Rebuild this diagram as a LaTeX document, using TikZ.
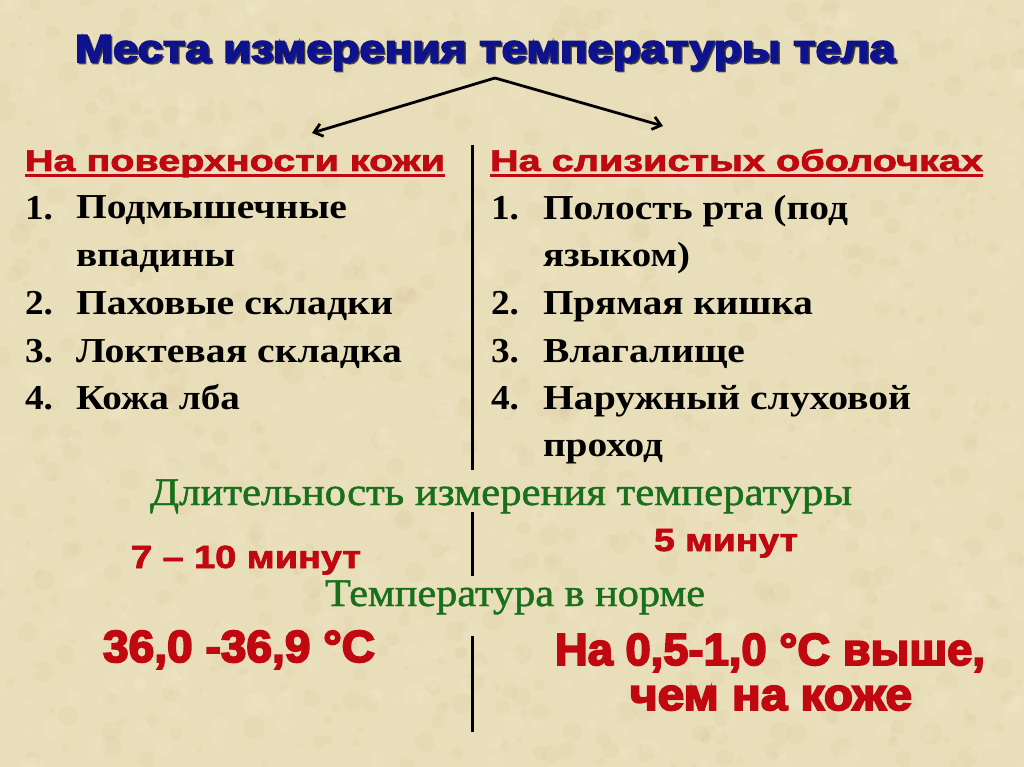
\documentclass[tikz,border=0pt]{standalone}
\usepackage{graphicx}
\usepackage{fontspec}
\usetikzlibrary{arrows.meta}
\setmainfont{Liberation Serif}
\newfontfamily\sansf{Liberation Sans}
\newfontfamily\heavyf{Liberation Sans}[BoldFeatures={FakeBold=4}]
\newfontfamily\semif{Liberation Sans}[BoldFeatures={FakeBold=2}]
\newfontfamily\serff{Liberation Serif}
\newfontfamily\serfg{Liberation Serif}[UprightFeatures={FakeBold=1.2}]
\definecolor{bg}{RGB}{233,222,186}
\definecolor{bgdark}{RGB}{205,186,138}
\definecolor{bglight}{RGB}{246,239,214}
\definecolor{titleblue}{RGB}{14,18,140}
\definecolor{hred}{RGB}{192,8,16}
\definecolor{grn}{RGB}{24,112,28}
\newcommand\fitw[2]{\resizebox{#1}{\height}{#2}}
\tikzset{
  txt/.style={inner sep=0pt, outer sep=0pt, anchor=base west},
  titlef/.style={font=\heavyf\bfseries\fontsize{39}{39}\selectfont},
  headf/.style={font=\semif\bfseries\fontsize{30}{30}\selectfont, text=hred},
  listf/.style={font=\serff\bfseries\fontsize{35}{35}\selectfont, text=black},
  greenf/.style={font=\serfg\fontsize{39}{39}\selectfont, text=grn},
  midred/.style={font=\semif\bfseries\fontsize{32}{32}\selectfont, text=hred},
  bigred/.style={font=\heavyf\bfseries\fontsize{45}{45}\selectfont, text=hred},
  arr/.style={line width=2.8pt, -{Straight Barb[length=8pt,width=13pt]}},
  divider/.style={line width=3pt, black}
}
\begin{document}
\begin{tikzpicture}[x=1pt,y=-1pt]
% background
\fill[bg] (0,0) rectangle (1024,767);
\useasboundingbox (0,0) rectangle (1024,767);
\pgfmathsetseed{17}
\foreach \i in {1,...,700}{
  \pgfmathsetmacro\xx{rnd*1024}
  \pgfmathsetmacro\yy{rnd*767}
  \pgfmathsetmacro\rr{2+rnd*9}
  \fill[bgdark, opacity=0.10] (\xx,\yy) circle[radius=\rr];
}
\foreach \i in {1,...,700}{
  \pgfmathsetmacro\xx{rnd*1024}
  \pgfmathsetmacro\yy{rnd*767}
  \pgfmathsetmacro\rr{2+rnd*9}
  \fill[bglight, opacity=0.16] (\xx,\yy) circle[radius=\rr];
}
% title with shadow
\node[txt, titlef, text=black!85, opacity=0.75] (titleshadow) at (76.5,63.5) {\fitw{820pt}{Места измерения температуры тела}};
\node[txt, titlef, text=titleblue] (title) at (75,62) {\fitw{820pt}{Места измерения температуры тела}};
% arrows
\coordinate (apex) at (495,78);
\coordinate (ltip) at (312,133);
\coordinate (rtip) at (663,126);
\draw[arr] (apex) -- (ltip);
\draw[arr] (apex) -- (rtip);
% headers
\node[txt, headf] (hl) at (25,171) {\fitw{420pt}{На поверхности кожи}};
\node[txt, headf] (hr) at (490,171) {\fitw{493pt}{На слизистых оболочках}};
\draw[hred, line width=2.4pt] ([yshift=-4.5pt]hl.base west) -- ([yshift=-4.5pt]hl.base east);
\draw[hred, line width=2.4pt] ([yshift=-4.5pt]hr.base west) -- ([yshift=-4.5pt]hr.base east);
% left list
\node[txt, listf] (ln1) at (25,219) {\fitw{28pt}{1.}};
\node[txt, listf] (l1a) at (76,219) {\fitw{271pt}{Подмышечные}};
\node[txt, listf] (l1b) at (76,266) {\fitw{159pt}{впадины}};
\node[txt, listf] (ln2) at (25,314) {\fitw{28pt}{2.}};
\node[txt, listf] (l2) at (76,314) {\fitw{317pt}{Паховые складки}};
\node[txt, listf] (ln3) at (25,362) {\fitw{28pt}{3.}};
\node[txt, listf] (l3) at (76,362) {\fitw{326pt}{Локтевая складка}};
\node[txt, listf] (ln4) at (25,409) {\fitw{28pt}{4.}};
\node[txt, listf] (l4) at (76,409) {\fitw{164pt}{Кожа лба}};
% right list
\node[txt, listf] (rn1) at (491,219) {\fitw{28pt}{1.}};
\node[txt, listf] (r1a) at (543,219) {\fitw{305pt}{Полость рта (под}};
\node[txt, listf] (r1b) at (543,266) {\fitw{147pt}{языком)}};
\node[txt, listf] (rn2) at (491,314) {\fitw{28pt}{2.}};
\node[txt, listf] (r2) at (543,314) {\fitw{270pt}{Прямая кишка}};
\node[txt, listf] (rn3) at (491,362) {\fitw{28pt}{3.}};
\node[txt, listf] (r3) at (543,362) {\fitw{202pt}{Влагалище}};
\node[txt, listf] (rn4) at (491,409) {\fitw{28pt}{4.}};
\node[txt, listf] (r4a) at (543,409) {\fitw{368pt}{Наружный слуховой}};
\node[txt, listf] (r4b) at (543,456) {\fitw{120pt}{проход}};
% divider
\coordinate (d1t) at (472,145); \coordinate (d1b) at (472,470);
\coordinate (d2t) at (472,512); \coordinate (d2b) at (472,576);
\coordinate (d3t) at (472,636); \coordinate (d3b) at (472,732);
\draw[divider] (d1t) -- (d1b);
\draw[divider] (d2t) -- (d2b);
\draw[divider] (d3t) -- (d3b);
% duration
\node[txt, greenf] (dur) at (150,505) {\fitw{702pt}{Длительность измерения температуры}};
\node[txt, midred] (dl) at (131,568) {\fitw{230pt}{7 – 10 минут}};
\node[txt, midred] (dr) at (654,551) {\fitw{144pt}{5 минут}};
% norm
\node[txt, greenf] (norm) at (325,606) {\fitw{380pt}{Температура в норме}};
\node[txt, bigred] (nl) at (103,662) {\fitw{272pt}{36,0 -36,9 °С}};
\node[txt, bigred] (nr1) at (555,665) {\fitw{430pt}{На 0,5-1,0 °С выше,}};
\node[txt, bigred] (nr2) at (630,710) {\fitw{282pt}{чем на коже}};
\end{tikzpicture}
\end{document}
